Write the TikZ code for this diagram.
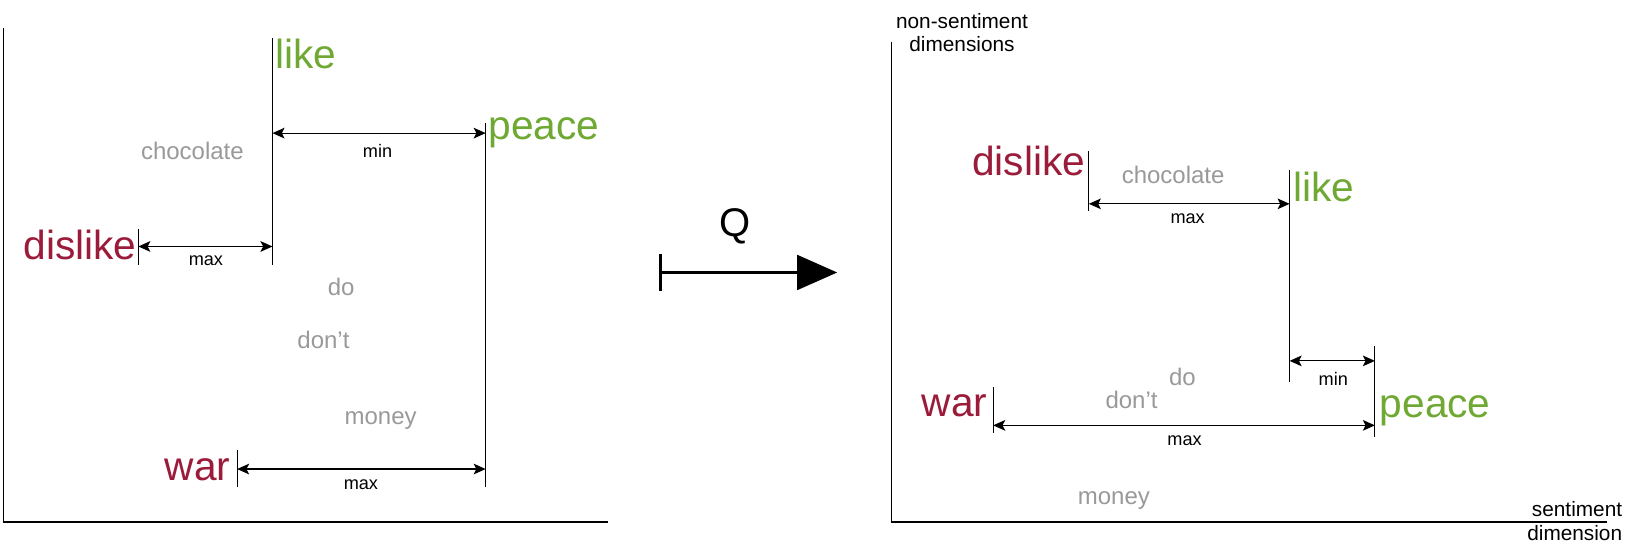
\documentclass[tikz,border=0pt]{standalone}
\usepackage{fontspec}
\setmainfont{Liberation Sans}
\usetikzlibrary{arrows.meta}
\definecolor{wred}{HTML}{9B1B3A}
\definecolor{wgreen}{HTML}{6FA832}
\definecolor{wgray}{HTML}{999999}
\tikzset{
 big/.style={font=\fontsize{30.5}{33}\selectfont, inner sep=0pt},
 posw/.style={big, text=wgreen},
 negw/.style={big, text=wred},
 neu/.style={font=\fontsize{18}{21}\selectfont, text=wgray, inner sep=0pt},
 lab/.style={font=\fontsize{13.6}{15}\selectfont, inner sep=0pt},
 ln/.style={line width=0.9pt},
 dim/.style={line width=0.9pt, {Stealth[inset=2pt,length=9pt,width=8pt]}-{Stealth[inset=2pt,length=9pt,width=8pt]}}
}
\begin{document}
\begin{tikzpicture}[x=0.78pt,y=-0.78pt]
\useasboundingbox (0pt,0pt) rectangle (1221.75pt,-412.5pt);
% left axes
\coordinate (lo) at (3,502);
\draw[ln] (3,27) -- (lo) -- (585,502);
\coordinate (likeT) at (262,37); \coordinate (likeB) at (262,255);
\coordinate (peT) at (467,118); \coordinate (peB) at (467,468);
\coordinate (diT) at (133,220); \coordinate (diB) at (133,255);
\coordinate (waT) at (228,433); \coordinate (waB) at (228,468);
\draw[ln] (likeT)--(likeB); \draw[ln] (peT)--(peB);
\draw[ln] (diT)--(diB); \draw[ln] (waT)--(waB);
\draw[dim] (262,128) -- (467,128);
\draw[dim] (133,237) -- (262,237);
\draw[dim] (228,451) -- (467,451);
\node[lab] (m1) at (363,145) {min};
\node[lab] (m2) at (198,251) {max};
\node[lab] (m3) at (347,466) {max};
\node[posw] (like1) at (294,52) {like};
\node[posw] (peace1) at (523,128) {peace};
\node[negw] (dislike1) at (77,236) {dislike};
\node[negw] (war1) at (190,452) {war};
\node[neu] (choc1) at (185,145) {chocolate};
\node[neu] (do1) at (328,276) {do};
\node[neu] (dont1) at (311,327) {don't};
\node[neu] (money1) at (366,404) {money};
% Q map
\coordinate (qs) at (635,262); \coordinate (qe) at (805,262);
\draw[line width=2.2pt] (635,244) -- (635,280);
\draw[line width=2.2pt,-{Triangle[length=30pt,width=26pt]}] (qs) -- (qe);
\node[font=\fontsize{30}{33}\selectfont] (Q) at (707,218) {Q};
% right axes
\draw[ln] (857,40) -- (857,502) -- (1545,502);
\node[font=\fontsize{15.6}{17.5}\selectfont, align=center, inner sep=0pt] (ya) at (925,31) {non-sentiment\\dimensions};
\node[font=\fontsize{15.6}{17.5}\selectfont, align=right, inner sep=0pt, anchor=east] (xa) at (1560,501) {sentiment\\dimension};
\draw[ln] (1047,145) -- (1047,203);
\draw[ln] (1240,163) -- (1240,367);
\draw[ln] (1322,333) -- (1322,420);
\draw[ln] (955,372) -- (955,416);
\draw[dim] (1047,196) -- (1240,196);
\draw[dim] (1240,347) -- (1322,347);
\draw[dim] (955,409) -- (1322,409);
\node[lab] at (1142,210) {max};
\node[lab] at (1282,364) {min};
\node[lab] at (1139,424) {max};
\node[negw] (dislike2) at (989,155) {dislike};
\node[posw] (like2) at (1273,180) {like};
\node[posw] (peace2) at (1380,395) {peace};
\node[negw] (war2) at (918,390) {war};
\node[neu] (choc2) at (1128,168) {chocolate};
\node[neu] (do2) at (1137,362) {do};
\node[neu] (dont2) at (1088,385) {don't};
\node[neu] (money2) at (1071,481) {money};
\end{tikzpicture}
\end{document}
